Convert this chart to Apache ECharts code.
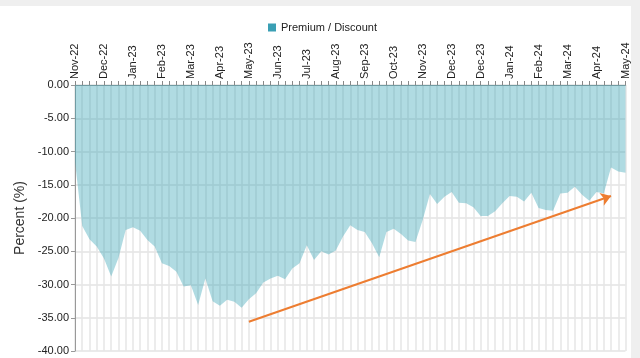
<!DOCTYPE html>
<html><head><meta charset="utf-8">
<script src="https://cdn.jsdelivr.net/npm/echarts@6/dist/echarts.min.js"></script>
<style>
html,body{margin:0;padding:0;background:#efefef;width:640px;height:358px;overflow:hidden;}
#c{position:absolute;left:0;top:6px;width:631px;height:352px;background:#fff;}
</style></head>
<body><div id="c"></div>
<script>
const tickLabels = ["Nov-22","Dec-22","Jan-23","Feb-23","Mar-23","Apr-23","May-23","Jun-23","Jul-23","Aug-23","Sep-23","Oct-23","Nov-23","Dec-23","Dec-23","Jan-24","Feb-24","Mar-24","Apr-24","May-24"];
const premiumDiscount = [
 -11.5,-21.2,-23.2,-24.3,-26.1,-28.8,-26.0,-21.8,-21.4,-21.9,
 -23.3,-24.3,-26.8,-27.2,-28.1,-30.3,-30.1,-33.1,-29.1,-32.5,
 -33.2,-32.3,-32.6,-33.5,-32.2,-31.3,-29.7,-29.1,-28.7,-29.2,
 -27.6,-26.8,-24.1,-26.3,-25.0,-25.5,-24.9,-22.8,-21.1,-21.8,
 -22.1,-23.8,-25.9,-22.1,-21.6,-22.4,-23.4,-23.6,-20.3,-16.4,
 -17.9,-16.8,-16.1,-17.7,-17.8,-18.4,-19.7,-19.7,-19.0,-17.8,
 -16.7,-16.8,-17.5,-16.2,-18.5,-18.8,-18.9,-16.3,-16.2,-15.3,
 -16.5,-17.4,-16.1,-16.3,-12.4,-13.0,-13.2];
const categories = premiumDiscount.map((_, i) => tickLabels[Math.floor(i / 4)] + ' w' + (i % 4 + 1));
const trendArrow = [[23.9, -35.6], [73.9, -16.7]];

const chart = echarts.init(document.getElementById('c'));
const font = 'Liberation Sans, Arial, sans-serif';
chart.setOption({
  animation: false,
  textStyle: { fontFamily: font },
  legend: {
    left: 263, top: 11, itemWidth: 8, itemHeight: 8, icon: 'rect',
    textStyle: { fontSize: 11, color: '#222', fontFamily: font },
    data: ['Premium / Discount']
  },
  grid: { left: 75, right: 5, top: 79, bottom: 7 },
  xAxis: {
    type: 'category', position: 'top', boundaryGap: false, data: categories,
    axisLine: { lineStyle: { color: '#999' } },
    axisTick: { interval: 0, length: 4, lineStyle: { color: '#888' } },
    axisLabel: {
      interval: 3, rotate: 90, fontSize: 11, color: '#222', margin: 6, fontFamily: font,
      formatter: (v, i) => tickLabels[Math.floor(i / 4)]
    },
    splitLine: { show: true, interval: 0, lineStyle: { color: '#e6e6e6', width: 1.5 } }
  },
  yAxis: {
    type: 'value', min: -40, max: 0, interval: 5,
    name: 'Percent (%)', nameLocation: 'middle', nameGap: 32,
    nameTextStyle: { fontSize: 14, color: '#333', fontFamily: font },
    axisLine: { show: true, lineStyle: { color: '#999' } },
    axisTick: { show: true, length: 4, lineStyle: { color: '#999' } },
    axisLabel: { fontSize: 11, color: '#222', margin: 6, fontFamily: font, formatter: v => v.toFixed(2) },
    splitLine: { lineStyle: { color: '#e3e3e3', width: 1.5 } }
  },
  series: [{
    name: 'Premium / Discount', type: 'line', data: premiumDiscount,
    symbol: 'none', itemStyle: { color: '#3a9fb4' },
    lineStyle: { width: 0 },
    areaStyle: { color: 'rgba(47,160,180,0.38)', opacity: 1 },
    markLine: {
      silent: true, symbol: ['none', 'arrow'], symbolSize: 10,
      label: { show: false },
      lineStyle: { color: '#ed7d31', width: 2, type: 'solid' },
      data: [[{ coord: trendArrow[0] }, { coord: trendArrow[1] }]]
    }
  }]
});
</script></body></html>
